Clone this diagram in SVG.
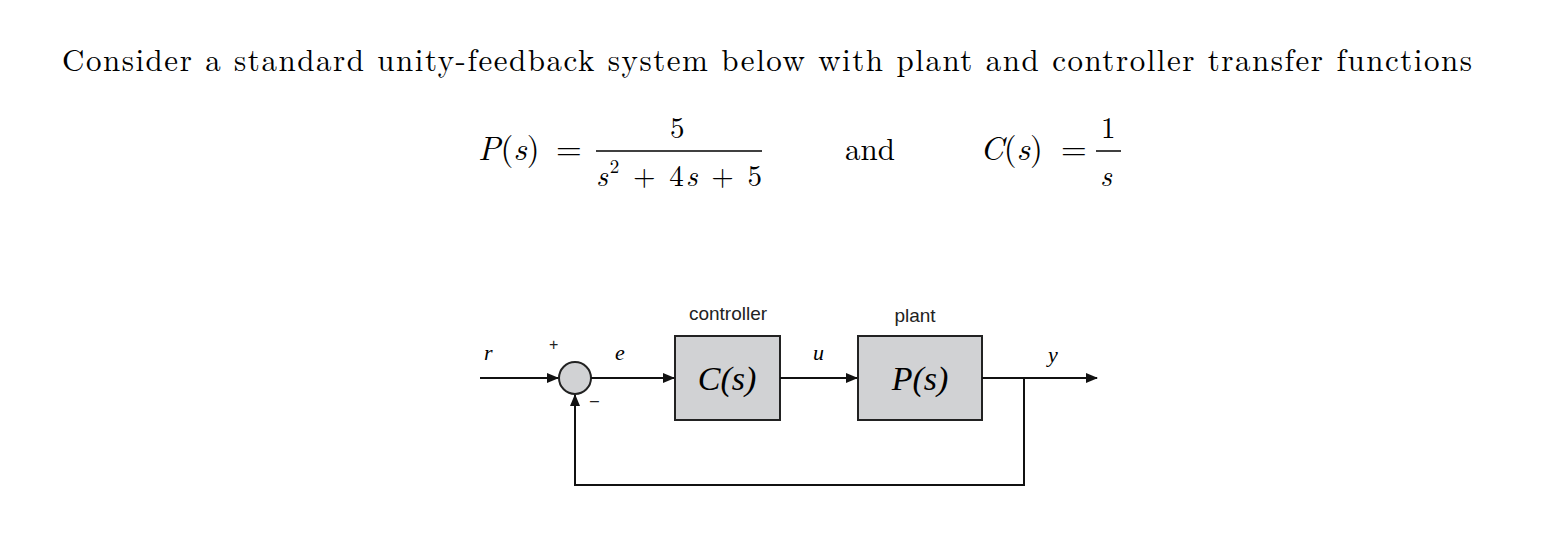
<svg xmlns="http://www.w3.org/2000/svg" width="1548" height="552" viewBox="0 0 1548 552">
<style>
.t{font-family:"Latin Modern Roman","Liberation Serif",serif;fill:#000}
.m{font-family:"Liberation Serif",serif;font-style:italic;fill:#000}
.s{font-family:"Liberation Sans",Arial,sans-serif;fill:#222}
.box{fill:#d1d2d4;stroke:#222;stroke-width:2}
.ln{fill:none;stroke:#111;stroke-width:2}
</style>
<defs><marker id="a" markerWidth="12" markerHeight="10" refX="11" refY="5" orient="auto" markerUnits="userSpaceOnUse"><path d="M0,0L12,5L0,10z" fill="#111"/></marker></defs>
<rect width="1548" height="552" fill="#fff"/>
<text class="t" x="62" y="71" font-size="31" textLength="1410" lengthAdjust="spacing">Consider a standard unity-feedback system below with plant and controller transfer functions</text>
<text class="t" x="478" y="160" font-size="33"><tspan font-style="italic">P</tspan>(<tspan font-style="italic">s</tspan>) <tspan x="556">=</tspan></text>
<text class="t" x="670" y="138" font-size="29">5</text>
<line x1="596" y1="151" x2="762" y2="151" stroke="#000" stroke-width="1.5"/>
<text class="t" x="596" y="186" font-size="29" textLength="166" lengthAdjust="spacing"><tspan font-style="italic">s</tspan><tspan font-size="19" dy="-13">2</tspan><tspan dy="13"> + 4</tspan><tspan font-style="italic">s</tspan> + 5</text>
<text class="t" x="845" y="160" font-size="31">and</text>
<text class="t" x="980" y="160" font-size="33"><tspan font-style="italic">C</tspan>(<tspan font-style="italic">s</tspan>) <tspan x="1061">=</tspan></text>
<text class="t" x="1101" y="138" font-size="29">1</text>
<line x1="1096" y1="151" x2="1121" y2="151" stroke="#000" stroke-width="1.5"/>
<text class="t" x="1100" y="186" font-size="29" font-style="italic">s</text>
<g id="sum"><circle cx="575" cy="378" r="16" class="box"/></g>
<g id="controller"><rect x="675" y="336" width="105" height="84" class="box"/><text class="m" x="727" y="390" font-size="34" font-style="normal" text-anchor="middle"><tspan font-style="italic">C</tspan>(<tspan font-style="italic">s</tspan>)</text><text class="s" x="728" y="320" font-size="19" text-anchor="middle">controller</text></g>
<g id="plant"><rect x="858" y="336" width="124" height="84" class="box"/><text class="m" x="920" y="390" font-size="34" font-style="normal" text-anchor="middle"><tspan font-style="italic">P</tspan>(<tspan font-style="italic">s</tspan>)</text><text class="s" x="915" y="322" font-size="19" text-anchor="middle">plant</text></g>
<g id="connectors">
<path class="ln" d="M480,378H558" marker-end="url(#a)"/>
<path class="ln" d="M591,378H674" marker-end="url(#a)"/>
<path class="ln" d="M780,378H857" marker-end="url(#a)"/>
<path class="ln" d="M982,378H1097" marker-end="url(#a)"/>
<path class="ln" d="M1024,378V485H575V395" marker-end="url(#a)"/>
</g>
<g class="m" font-size="22">
<text x="484" y="360">r</text><text x="615" y="360">e</text><text x="813" y="360">u</text><text x="1048" y="362">y</text>
</g>
<text class="s" x="549" y="350" font-size="16">+</text>
<text class="s" x="590" y="406" font-size="16">–</text>
</svg>
